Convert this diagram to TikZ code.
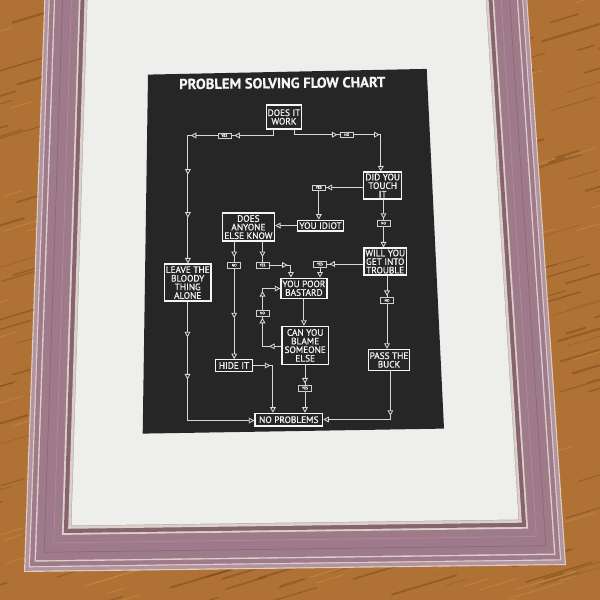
\documentclass[tikz,border=0pt]{standalone}
\usepackage{fontspec}
\setmainfont{PT Sans}
\newfontfamily\boxfont[FakeBold=0.7]{PT Sans}
\newfontfamily\titlefont[FakeBold=0.3]{PT Sans Bold}
\usetikzlibrary{arrows.meta,decorations.markings,calc}
\definecolor{wood}{HTML}{B07234}
\definecolor{woodd}{HTML}{744419}
\definecolor{woodl}{HTML}{CB924F}
\definecolor{fpink}{HTML}{9F7A8A}
\definecolor{fpinkd}{HTML}{86636F}
\definecolor{fpinkl}{HTML}{B493A0}
\definecolor{fcream}{HTML}{DDD0C8}
\definecolor{matc}{HTML}{EEEEEC}
\definecolor{printbk}{HTML}{262626}
\definecolor{chartw}{HTML}{F5F5F5}
\definecolor{linec}{HTML}{D8D8D8}
\newcommand\frameband[2]{\fill[#2] ($(OTL)!#1!(ITL)$) -- ($(OTR)!#1!(ITR)$) -- ($(OBR)!#1!(IBR)$) -- ($(OBL)!#1!(IBL)$) -- cycle;}
\newcommand\frameline[3]{\draw[#2, line width=#3] ($(OTL)!#1!(ITL)$) -- ($(OTR)!#1!(ITR)$) -- ($(OBR)!#1!(IBR)$) -- ($(OBL)!#1!(IBL)$) -- cycle;}
\tikzset{
  >={Triangle[length=5.5pt,width=5.8pt,fill=printbk]},
  box/.style={draw=chartw, line width=1.3pt, fill=printbk, text=chartw,
    font=\boxfont\fontsize{9.3}{8.6}\selectfont, align=center, inner sep=0.5pt},
  lab/.style={draw=chartw!85!black, line width=0.5pt, fill=printbk, text=chartw,
    font=\boxfont\fontsize{3.6}{3.6}\selectfont, inner sep=0.4pt, minimum width=13pt, minimum height=5.5pt},
  conn/.style={draw=linec, line width=0.85pt},
  ta/.style={postaction={decorate, decoration={markings, mark=at position #1 with {\arrow{>}}}}},
  titlestyle/.style={text=chartw, font=\titlefont\fontsize{14.6}{14.6}\selectfont}
}
\begin{document}
\begin{tikzpicture}[x=1pt,y=-1pt]
\useasboundingbox (0,0) rectangle (600,600);
% wood table
\fill[wood] (0,0) rectangle (600,600);
\begin{scope}
\clip (0,0) rectangle (600,600);
\pgfmathsetseed{5}
\foreach \i in {1,...,300}{
  \pgfmathsetmacro\xx{rnd*660-40}
  \pgfmathsetmacro\yy{rnd*640}
  \pgfmathsetmacro\ll{15+rnd*55}
  \pgfmathsetmacro\ww{0.4+rnd*1.8}
  \draw[woodd, line width=\ww pt, opacity=0.45, line cap=round] (\xx,\yy) -- ++(\ll,-0.3*\ll);
}
\foreach \i in {1,...,140}{
  \pgfmathsetmacro\xx{rnd*660-40}
  \pgfmathsetmacro\yy{rnd*640}
  \pgfmathsetmacro\ll{15+rnd*45}
  \draw[woodl, line width=0.9pt, opacity=0.5, line cap=round] (\xx,\yy) -- ++(\ll,-0.3*\ll);
}
\end{scope}
% frame
\coordinate (OTL) at (45,-20);
\coordinate (OTR) at (526,-20);
\coordinate (OBR) at (566,565);
\coordinate (OBL) at (24,572);
\coordinate (ITL) at (88.6,-20);
\coordinate (ITR) at (484,-20);
\coordinate (IBR) at (518,519);
\coordinate (IBL) at (72,525);
\begin{scope}
\clip (0,0) rectangle (600,600);
\frameband{0}{fcream}
\frameband{0.025}{fpinkl}
\frameband{0.10}{fcream}
\frameband{0.125}{fpink}
\frameband{0.22}{fcream}
\frameband{0.25}{fpink}
\frameline{0.42}{fpinkd}{0.5pt}
\frameline{0.62}{fpinkl}{0.5pt}
\frameband{0.79}{fcream}
\frameband{0.83}{fpinkd}
\frameband{0.92}{fcream}
\frameband{0.975}{black!30}
\frameband{0.99}{matc}
\end{scope}
% print
\fill[printbk] (148,74.6) -- (426.7,68.9) -- (444,428.6) -- (142.7,433.6) -- cycle;
% title
\node[titlestyle, rotate=0.6] (title) at (282.3,83) {PROBLEM SOLVING FLOW CHART};
% boxes
\node[box, minimum width=34.5pt, minimum height=24pt] (work) at (284,117) {DOES IT\\WORK};
\node[box, minimum width=38pt, minimum height=27pt] (did) at (382.7,185.6) {DID YOU\\TOUCH\\IT};
\node[box, minimum width=45.6pt, minimum height=10.5pt] (idiot) at (320.5,225.6) {YOU IDIOT};
\node[box, minimum width=52pt, minimum height=28pt] (anyone) at (248.4,227.1) {DOES\\ANYONE\\ELSE KNOW};
\node[box, minimum width=42.4pt, minimum height=27pt] (will) at (385.2,261.6) {WILL YOU\\GET INTO\\TROUBLE};
\node[box, minimum width=46.3pt, minimum height=37pt] (leave) at (187.7,282.6) {LEAVE THE\\BLOODY\\THING\\ALONE};
\node[box, minimum width=46pt, minimum height=20pt] (poor) at (303.9,288.2) {YOU POOR\\BASTARD};
\node[box, minimum width=46.4pt, minimum height=38pt] (can) at (305.2,345.4) {CAN YOU\\BLAME\\SOMEONE\\ELSE};
\node[box, minimum width=41pt, minimum height=21pt] (pass) at (389,360) {PASS THE\\BUCK};
\node[box, minimum width=37pt, minimum height=11.5pt] (hide) at (234,365.5) {HIDE IT};
\node[box, minimum width=67.7pt, minimum height=12.7pt] (nop) at (288.8,419.7) {NO PROBLEMS};
% corner coordinates
\coordinate (y1) at (273.2,135.5);
\coordinate (y1b) at (187.9,135.5);
\coordinate (n1) at (294.7,134.7);
\coordinate (n1b) at (380.8,134.7);
\coordinate (y2) at (318.8,187.5);
\coordinate (n2) at (383.5,223.1);
\coordinate (y3) at (320,264);
\coordinate (n3) at (387,300.4);
\coordinate (p1) at (390.4,419.5);
\coordinate (n4) at (234.2,265.2);
\coordinate (y4) at (262.5,265);
\coordinate (y4b) at (290.9,265);
\coordinate (n5) at (262.5,346.3);
\coordinate (n5b) at (262.5,288.5);
\coordinate (y5) at (305,388);
\coordinate (h1) at (272.9,365.5);
\coordinate (l1) at (187.5,420.5);
% connectors
\draw[conn,->, ta=44.7pt, ta=88.3pt, ta=130.3pt, ta=173.3pt] (work.south -| y1) -- (y1) -- (y1b) -- (y1b |- leave.north);
\draw[conn,->, ta=47.8pt, ta=89.9pt] (work.south -| n1) -- (n1) -- (n1b) -- (n1b |- did.north);
\draw[conn,->, ta=36.4pt] (did.west |- y2) -- (y2) -- (y2 |- idiot.north);
\draw[conn,->] (idiot.west) -- (idiot.west -| anyone.east);
\draw[conn,->, ta=19pt] (did.south -| n2) -- (n2 |- will.north);
\draw[conn,->, ta=34pt] (will.west |- y3) -- (y3) -- (y3 |- poor.north);
\draw[conn,->, ta=20.2pt] (will.south -| n3) -- (n3 |- pass.north);
\draw[conn,->, ta=44.6pt] (pass.south -| p1) -- (p1) -- (p1 -| nop.east);
\draw[conn,->, ta=15.3pt, ta=76.5pt] (anyone.south -| n4) -- (n4 |- hide.north);
\draw[conn,->, ta=15.3pt, ta=48.4pt] (anyone.south -| y4) -- (y4) -- (y4b) -- (y4b |- poor.north);
\draw[conn,->] (poor.south) -- (poor.south |- can.north);
\draw[conn,->, ta=12.2pt, ta=47.4pt, ta=74.1pt] (can.west |- n5) -- (n5) -- (n5b) -- (n5b -| poor.west);
\draw[conn,->, ta=18.4pt] (can.south -| y5) -- (y5 |- nop.north);
\draw[conn,->, ta=17.2pt] (hide.east) -- (h1) -- (h1 |- nop.north);
\draw[conn,->, ta=35.6pt, ta=77.7pt] (leave.south -| l1) -- (l1) -- (l1 -| nop.west);
% labels
\node[lab] (ly1) at (224.3,135.5) {YES};
\node[lab] (ln1) at (346.7,134.7) {NO};
\node[lab] (ly2) at (y2) {YES};
\node[lab] (ln2) at (n2) {NO};
\node[lab] (ly3) at (y3) {YES};
\node[lab] (ln3) at (n3) {NO};
\node[lab] (ln4) at (n4) {NO};
\node[lab] (ly4) at (y4) {YES};
\node[lab] (ln5) at (262.5,313) {NO};
\node[lab] (ly5) at (y5) {YES};
\end{tikzpicture}
\end{document}
